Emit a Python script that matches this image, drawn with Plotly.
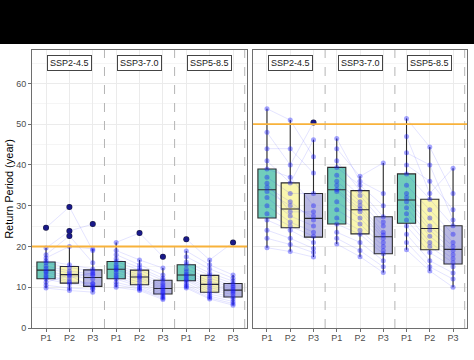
import plotly.graph_objects as go

periods = ["P1", "P2", "P3"]
scenarios = ["SSP2-4.5", "SSP3-7.0", "SSP5-8.5"]
tick_labels = periods * 3
y_ticks = [0, 10, 20, 30, 40, 50, 60]
thresholds = [20, 50]

# ---- per-model values (16 models), left panel: [P1, P2, P3] ----
left_ssp245 = [
    [24.6, 19.6, 18.0, 17.2, 16.5, 16.0, 15.2, 14.6, 14.0, 13.6, 13.0, 12.5, 12.0, 11.2, 10.5, 9.8],
    [29.7, 23.8, 22.6, 20.0, 15.5, 14.8, 14.0, 13.5, 12.8, 12.2, 11.6, 11.2, 10.8, 13.0, 9.8, 9.2],
    [19.0, 25.5, 16.0, 19.4, 14.5, 14.0, 13.2, 12.8, 12.0, 13.5, 11.0, 10.8, 10.2, 9.8, 9.5, 8.8],
]
left_ssp370 = [
    [21.0, 19.0, 18.0, 17.0, 16.3, 15.5, 15.0, 14.5, 14.2, 13.6, 13.0, 12.5, 12.0, 11.2, 10.6, 10.0],
    [23.3, 16.7, 15.5, 14.8, 14.2, 13.5, 13.0, 12.6, 12.3, 11.8, 11.2, 10.6, 10.2, 9.8, 9.5, 9.2],
    [17.5, 14.7, 13.0, 12.2, 11.7, 11.0, 10.5, 10.0, 9.6, 9.2, 8.8, 8.4, 8.0, 7.6, 7.3, 7.0],
]
left_ssp585 = [
    [21.8, 18.9, 17.5, 16.2, 15.5, 14.5, 13.8, 13.2, 12.8, 12.3, 11.9, 11.6, 11.0, 10.5, 10.1, 9.8],
    [16.7, 15.5, 14.5, 13.5, 12.9, 12.2, 11.5, 11.0, 10.4, 9.9, 9.4, 8.8, 8.3, 7.8, 7.4, 7.1],
    [21.0, 13.0, 12.2, 11.5, 10.9, 10.4, 10.0, 9.5, 9.1, 8.7, 8.2, 7.6, 7.1, 6.5, 6.0, 5.6],
]
# ---- right panel ----
right_ssp245 = [
    [53.8, 48.0, 44.0, 41.0, 39.0, 37.0, 35.5, 34.5, 33.5, 32.0, 30.0, 28.0, 26.5, 24.0, 22.0, 19.7],
    [51.0, 40.0, 44.0, 35.6, 37.0, 33.0, 28.5, 31.0, 30.0, 27.5, 26.0, 25.0, 24.0, 22.0, 20.5, 18.75],
    [42.0, 50.4, 38.0, 46.2, 30.0, 33.0, 28.5, 26.5, 27.5, 25.0, 23.5, 22.5, 21.0, 19.5, 18.5, 17.4],
]
right_ssp370 = [
    [46.5, 44.0, 41.0, 39.4, 37.5, 36.0, 35.0, 34.0, 33.5, 31.0, 29.0, 27.0, 25.5, 23.5, 22.0, 20.6],
    [36.0, 37.2, 33.7, 35.0, 32.5, 31.0, 30.0, 29.2, 28.5, 27.0, 25.5, 24.0, 23.0, 21.0, 19.0, 17.5],
    [33.0, 40.5, 27.3, 30.0, 26.0, 25.0, 23.5, 22.8, 22.0, 21.0, 20.0, 19.0, 18.2, 16.5, 15.0, 13.6],
]
right_ssp585 = [
    [51.4, 47.0, 43.0, 40.0, 37.8, 35.0, 33.0, 32.0, 31.0, 29.5, 28.0, 26.5, 25.0, 23.0, 21.0, 19.2],
    [44.4, 33.0, 40.0, 36.0, 31.6, 29.0, 27.0, 25.0, 24.0, 22.5, 21.0, 20.0, 18.5, 16.5, 15.0, 14.0],
    [33.0, 39.2, 26.5, 29.0, 25.1, 23.0, 21.0, 20.0, 19.0, 18.0, 17.0, 16.0, 15.0, 13.5, 12.0, 10.0],
]

# ---- box statistics (order: SSP2 P1..P3, SSP3 P1..P3, SSP5 P1..P3) ----
left_q1 = [12.1, 11.0, 10.2, 12.1, 10.6, 8.35, 11.6, 8.76, 7.6]
left_med = [14.2, 13.1, 12.4, 14.4, 12.5, 9.7, 13.0, 10.7, 9.3]
left_q3 = [16.2, 15.1, 14.25, 16.3, 14.2, 11.7, 15.5, 12.9, 10.9]
left_lo = [9.75, 9.2, 8.8, 10.0, 9.2, 7.0, 9.75, 7.1, 5.6]
left_hi = [19.6, 20.0, 19.4, 21.0, 16.7, 14.7, 18.9, 16.7, 13.0]
left_out_x = [1, 2, 2, 2, 3, 5, 6, 7, 9]
left_out_y = [24.6, 29.7, 23.8, 22.6, 25.5, 23.3, 17.5, 21.8, 21.0]

right_q1 = [27.0, 24.6, 22.3, 25.5, 23.1, 18.2, 25.7, 19.2, 15.7]
right_med = [33.9, 29.2, 26.9, 33.9, 29.0, 22.4, 31.4, 24.4, 19.3]
right_q3 = [39.0, 35.6, 33.0, 39.4, 33.7, 27.3, 37.8, 31.6, 25.1]
right_lo = [19.7, 18.75, 17.4, 20.6, 17.5, 13.6, 19.2, 14.0, 10.0]
right_hi = [53.8, 51.0, 46.2, 46.5, 37.2, 40.5, 51.4, 44.4, 39.2]
right_out_x = [3]
right_out_y = [50.4]

box_fill = ["rgba(88,196,176,0.85)", "rgba(248,245,160,0.85)", "rgba(172,172,220,0.85)"]

fig = go.Figure()

panels = [
    dict(xa="x", ya="y", models=[left_ssp245, left_ssp370, left_ssp585],
         q1=left_q1, med=left_med, q3=left_q3, lo=left_lo, hi=left_hi,
         ox=left_out_x, oy=left_out_y),
    dict(xa="x2", ya="y2", models=[right_ssp245, right_ssp370, right_ssp585],
         q1=right_q1, med=right_med, q3=right_q3, lo=right_lo, hi=right_hi,
         ox=right_out_x, oy=right_out_y),
]

for p in panels:
    for k in range(3):
        idx = [k, k + 3, k + 6]
        fig.add_trace(go.Box(
            x=[i + 1 for i in idx],
            q1=[p["q1"][i] for i in idx],
            median=[p["med"][i] for i in idx],
            q3=[p["q3"][i] for i in idx],
            lowerfence=[p["lo"][i] for i in idx],
            upperfence=[p["hi"][i] for i in idx],
            width=0.78, whiskerwidth=0, boxpoints=False,
            fillcolor=box_fill[k], line=dict(color="#2b2b2b", width=1.1),
            xaxis=p["xa"], yaxis=p["ya"], showlegend=False, hoverinfo="skip",
        ))
    fig.add_trace(go.Scatter(
        x=p["ox"], y=p["oy"], mode="markers",
        marker=dict(color="#1c1c3c", size=6),
        xaxis=p["xa"], yaxis=p["ya"], showlegend=False, hoverinfo="skip",
    ))
    xs, ys = [], []
    for s, sc in enumerate(p["models"]):
        n = len(sc[0])
        for m in range(n):
            xs += [3 * s + 1, 3 * s + 2, 3 * s + 3, None]
            ys += [sc[0][m], sc[1][m], sc[2][m], None]
    fig.add_trace(go.Scatter(
        x=xs, y=ys, mode="lines+markers", connectgaps=False,
        line=dict(color="rgba(40,40,255,0.16)", width=0.8),
        marker=dict(color="rgba(20,20,255,0.38)", size=5),
        xaxis=p["xa"], yaxis=p["ya"], showlegend=False, hoverinfo="skip",
    ))

axis_common = dict(
    range=[0.4, 9.6], tickvals=list(range(1, 10)), ticktext=tick_labels,
    showgrid=True, gridcolor="#ebebeb", gridwidth=1, zeroline=False,
    showline=True, mirror=True, linecolor="#6e6e6e", linewidth=1,
    ticks="outside", ticklen=3, tickcolor="#6e6e6e", ticklabelstandoff=-2,
    tickfont=dict(size=9, color="#4d4d4d"),
)
yaxis_common = dict(
    range=[0, 68.2], tickvals=y_ticks, showgrid=True, gridcolor="#ebebeb",
    minor=dict(dtick=5, tick0=0, showgrid=True, gridcolor="#f5f5f5"),
    zeroline=False, showline=True, mirror=True, linecolor="#6e6e6e", linewidth=1,
)

shapes = []
annotations = []
for p_i, (xa, ya) in enumerate([("x", "y"), ("x2", "y2")]):
    for xv in [3.5, 6.5, 9.5]:
        shapes.append(dict(type="line", xref=xa, yref=ya + " domain", x0=xv, x1=xv, y0=0, y1=1,
                           line=dict(color="#b4b4b4", width=1, dash="dash")))
    shapes.append(dict(type="line", xref=xa + " domain", yref=ya, x0=0, x1=1,
                       y0=thresholds[p_i], y1=thresholds[p_i],
                       line=dict(color="#f8b23a", width=1.8)))
    for s, name in enumerate(scenarios):
        annotations.append(dict(text=name, x=3 * s + 2, y=65, xref=xa, yref=ya, showarrow=False,
                                font=dict(size=9, color="#1a1a1a"), bgcolor="white",
                                bordercolor="#444444", borderwidth=1, borderpad=2))

shapes.append(dict(type="rect", xref="paper", yref="paper", x0=-0.2, x1=1.2,
                   y0=1.0216, y1=1.3, fillcolor="black", line=dict(width=0)))

fig.update_layout(
    width=474, height=360,
    margin=dict(l=32, r=6.5, t=50, b=32, autoexpand=False),
    paper_bgcolor="white", plot_bgcolor="white",
    font=dict(family="Liberation Sans, Arial, sans-serif", size=9, color="#4d4d4d"),
    boxmode="overlay",
    xaxis=dict(domain=[0, 0.4944], anchor="y", **axis_common),
    xaxis2=dict(domain=[0.5081, 1], anchor="y2", **axis_common),
    yaxis=dict(anchor="x", ticks="outside", ticklen=3, tickcolor="#6e6e6e",
               tickfont=dict(size=9, color="#4d4d4d"),
               title=dict(text="Return Period (year)", font=dict(size=11, color="black"), standoff=0),
               **yaxis_common),
    yaxis2=dict(anchor="x2", matches="y", showticklabels=False, ticks="", **yaxis_common),
    shapes=shapes, annotations=annotations,
)

fig.write_html("out.html", config={"displayModeBar": False},
               post_script=["document.body.style.margin='0px';"])
